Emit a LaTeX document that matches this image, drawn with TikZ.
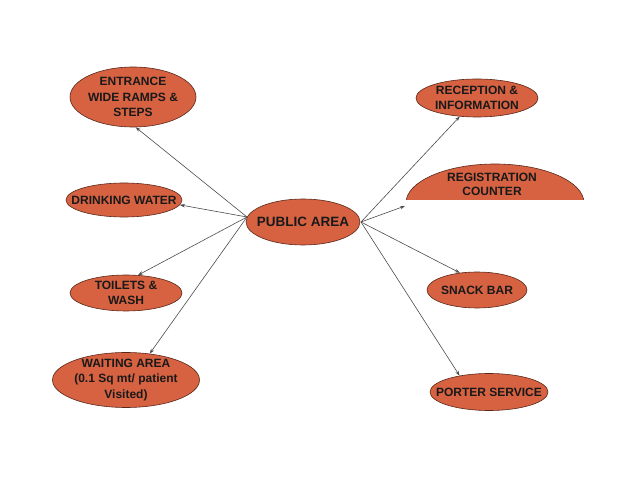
\documentclass[tikz,border=0pt]{standalone}
\usepackage{fontspec}
\setmainfont{Liberation Sans}
\usetikzlibrary{shapes.geometric,arrows.meta}
\definecolor{bub}{RGB}{214,98,66}
\definecolor{bord}{RGB}{90,40,25}
\tikzset{
  bubble/.style={ellipse, draw=bord, line width=0.6pt, fill=bub, inner sep=0pt},
  txt/.style={align=center, inner sep=0pt, font=\bfseries\fontsize{12}{15.5}\selectfont, text=black!90},
  link/.style={draw=black!70, line width=0.6pt, -{Stealth[length=5pt,width=3.5pt]}}
}
\begin{document}
\begin{tikzpicture}[x=1pt,y=-1pt]
\useasboundingbox (0,0) rectangle (638,478);
\fill[white] (0,0) rectangle (638,478);
\node[bubble, minimum width=126pt, minimum height=60pt] (ent) at (133,97) {};
\node[txt] at (ent) {ENTRANCE\\WIDE RAMPS \&\\STEPS};
\node[bubble, minimum width=116pt, minimum height=34pt] (dw) at (124,200) {};
\node[txt] at (dw) {DRINKING WATER};
\node[bubble, minimum width=112pt, minimum height=36pt] (toi) at (126,293) {};
\node[txt] at (toi) {TOILETS \&\\WASH};
\node[bubble, minimum width=147pt, minimum height=55pt] (wait) at (126,380) {};
\node[txt] at (wait) {WAITING AREA\\(0.1 Sq mt/ patient\\Visited)};
\node[bubble, minimum width=114pt, minimum height=46pt] (pa) at (303,222) {};
\node[txt, font=\bfseries\fontsize{13.5}{15}\selectfont] at (pa) {PUBLIC AREA};
\node[bubble, minimum width=122pt, minimum height=38pt] (rec) at (477,98) {};
\node[txt] at (rec) {RECEPTION \&\\INFORMATION};
\begin{scope}
\clip (398,150) rectangle (600,200);
\node[bubble, minimum width=178pt, minimum height=78pt] (reg) at (495,203) {};
\end{scope}
\node[txt, font=\bfseries\fontsize{12}{14}\selectfont] (regt) at (492,184) {REGISTRATION\\COUNTER};
\node[bubble, minimum width=100pt, minimum height=36pt] (snk) at (477,290) {};
\node[txt] at (snk) {SNACK BAR};
\node[bubble, minimum width=118pt, minimum height=37pt] (por) at (489,392) {};
\node[txt] at (por) {PORTER SERVICE};
\coordinate (L) at (247,217);
\coordinate (R) at (361,222);
\coordinate (regend) at (405,206);
\draw[link] (L) -- (ent.-85);
\draw[link] (L) -- (dw.-5);
\draw[link] (L) -- (toi.56);
\draw[link] (L) -- (wait.48);
\draw[link] (R) -- (rec.-133);
\draw[link] (R) -- (regend);
\draw[link] (R) -- (snk.135);
\draw[link] (R) -- (por.151);
\end{tikzpicture}
\end{document}
